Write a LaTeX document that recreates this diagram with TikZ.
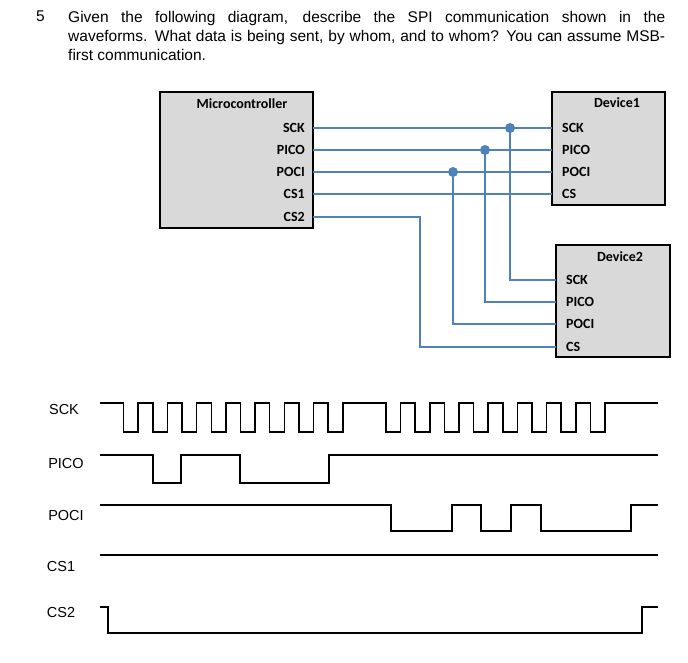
\documentclass[tikz,border=0pt]{standalone}
\usepackage{fontspec}
\setmainfont{Liberation Sans}
\newfontfamily\pinfont{Carlito}
\usetikzlibrary{positioning}
\definecolor{wireblue}{RGB}{79,129,189}
\definecolor{boxgray}{RGB}{217,217,217}

\begin{document}
\begin{tikzpicture}[x=1pt,y=-1pt,
  box/.style={draw,line width=1.6pt,fill=boxgray},
  wire/.style={wireblue,line width=1.4pt},
  dot/.style={circle,fill=wireblue,inner sep=0pt,minimum size=10pt},
  pin/.style={font=\pinfont\bfseries\fontsize{14}{16}\selectfont,inner sep=0pt},
  sig/.style={line width=1.5pt},
  siglabel/.style={font=\fontsize{14.5}{16}\selectfont,inner sep=0pt}]
\useasboundingbox (0,0) rectangle (688,662);
% question text
\node[anchor=north west,inner sep=0pt,font=\fontsize{15.5}{19}\selectfont] (num) at (36,11) {5};
\node[anchor=north west,inner sep=0pt,text width=597pt,align=justify,
  font=\fontsize{15.5}{19}\selectfont] (question) at (68,11)
  {Given the following diagram, describe the SPI communication shown in the\linebreak waveforms. What data is being sent, by whom, and to whom? You can assume MSB-\linebreak first communication.};
% boxes
\draw[box] (160,92) rectangle (313,228);
\draw[box] (552,92) rectangle (665,205);
\draw[box] (556,245) rectangle (670,357);
\node[pin] (mcu) at (242,104) {Microcontroller};
\node[pin] (dev1) at (617,103) {Device1};
\node[pin] (dev2) at (620,257) {Device2};
\node[pin,anchor=east] (mSCK) at (305,128) {SCK};
\node[pin,anchor=east] (mPICO) at (305,150) {PICO};
\node[pin,anchor=east] (mPOCI) at (305,172) {POCI};
\node[pin,anchor=east] (mCSa) at (305,194) {CS1};
\node[pin,anchor=east] (mCSb) at (305,217) {CS2};
\node[pin,anchor=west] (aSCK) at (562,128) {SCK};
\node[pin,anchor=west] (aPICO) at (562,150) {PICO};
\node[pin,anchor=west] (aPOCI) at (562,172) {POCI};
\node[pin,anchor=west] (aCS) at (562,194) {CS};
\node[pin,anchor=west] (bSCK) at (566,280) {SCK};
\node[pin,anchor=west] (bPICO) at (566,302) {PICO};
\node[pin,anchor=west] (bPOCI) at (566,324) {POCI};
\node[pin,anchor=west] (bCS) at (566,347) {CS};
% wires
\draw[wire] (313,128) -- (552,128);
\draw[wire] (313,150) -- (552,150);
\draw[wire] (313,172) -- (552,172);
\draw[wire] (313,194) -- (552,194);
\draw[wire] (313,217) -- (420,217) -- (420,347) -- (556,347);
\draw[wire] (510,128) -- (510,280) -- (556,280);
\draw[wire] (485,150) -- (485,302) -- (556,302);
\draw[wire] (453,172) -- (453,324) -- (556,324);
\node[dot] (jSCK) at (510,128) {};
\node[dot] (jPICO) at (485,150) {};
\node[dot] (jPOCI) at (453,172) {};
% waveforms
\node[siglabel] (lSCK) at (64,410) {SCK};
\node[siglabel] (lPICO) at (66,464) {PICO};
\node[siglabel] (lPOCI) at (66,515) {POCI};
\node[siglabel] (lCSa) at (61,566) {CS1};
\node[siglabel] (lCSb) at (61,612) {CS2};
\draw[sig] (100,403) foreach \f in {123.6,152.8,182,211.3,240.5,269.7,299,328.2,386,415.2,444.4,473.6,502.8,532,561.2,590.4}
  { -- (\f,403) -- (\f,432) -- (\f+14.6,432) -- (\f+14.6,403) } -- (658,403);
\draw[sig] (100,455) -- (153,455) -- (153,483) -- (181,483) -- (181,455) -- (240,455)
  -- (240,483) -- (329,483) -- (329,455) -- (658,455);
\draw[sig] (100,505) -- (391,505) -- (391,531) -- (452,531) -- (452,505) -- (481,505)
  -- (481,531) -- (511,531) -- (511,505) -- (541,505) -- (541,531) -- (631,531)
  -- (631,505) -- (658,505);
\draw[sig] (100,555) -- (658,555);
\draw[sig] (100,607) -- (108,607) -- (108,633) -- (642,633) -- (642,607) -- (658,607);
\end{tikzpicture}
\end{document}
